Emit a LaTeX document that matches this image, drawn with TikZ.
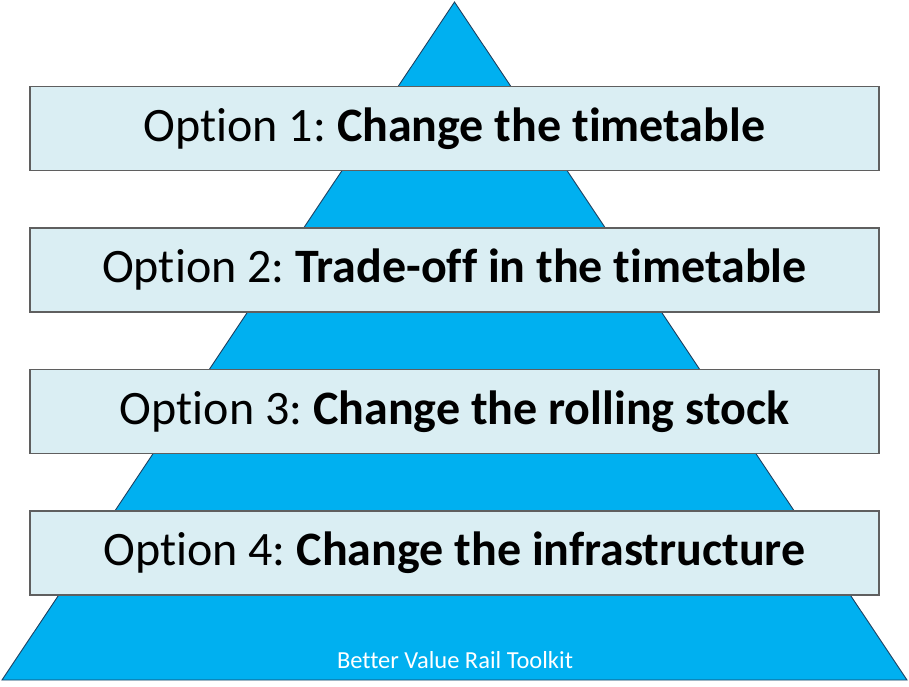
\documentclass[tikz,border=0pt]{standalone}
\usepackage{fontspec}
\setmainfont{Carlito}[Ligatures=NoCommon]
\usetikzlibrary{positioning}
\definecolor{pyramidblue}{HTML}{00B0F0}
\definecolor{pyramidedge}{HTML}{1F3F5F}
\definecolor{boxfill}{HTML}{DAEEF3}
\definecolor{boxedge}{HTML}{5F5F5F}
\frenchspacing
\tikzset{
    pyramid/.style={fill=pyramidblue, draw=pyramidedge, line width=0.9pt, line join=miter},
    optbox/.style={draw=boxedge, fill=boxfill, line width=1.3pt, outer sep=0pt, inner sep=0pt,
        minimum width=849pt, minimum height=84pt, font=\fontsize{48}{58}\selectfont},
    credit/.style={text=white, inner sep=0pt, font=\fontsize{24.5}{29}\selectfont}
}

\begin{document}
\begin{tikzpicture}[x=1pt, y=-1pt]
    \def \gap {57.5pt}
    \useasboundingbox (0,0) rectangle (909,687);
    % the pyramid
    \coordinate (apex) at (454.5, 2);
    \coordinate (baseL) at (2, 680);
    \coordinate (baseR) at (907, 680);
    \draw[pyramid] (apex) -- (baseL) -- (baseR) -- cycle;
    % the options
    \node[optbox] (opt1) at (454.5, 128.5) {Option 1: \textbf{Change the timetable}};
    \node[optbox, below=\gap of opt1] (opt2) {Option 2: \textbf{Trade-off in the timetable}};
    \node[optbox, below=\gap of opt2] (opt3) {Option 3: \textbf{Change the rolling stock}};
    \node[optbox, below=\gap of opt3] (opt4) {Option 4: \textbf{Change the infrastructure}};
    \node[credit] (toolkit) at (455, 660) {Better Value Rail Toolkit};
\end{tikzpicture}
\end{document}
